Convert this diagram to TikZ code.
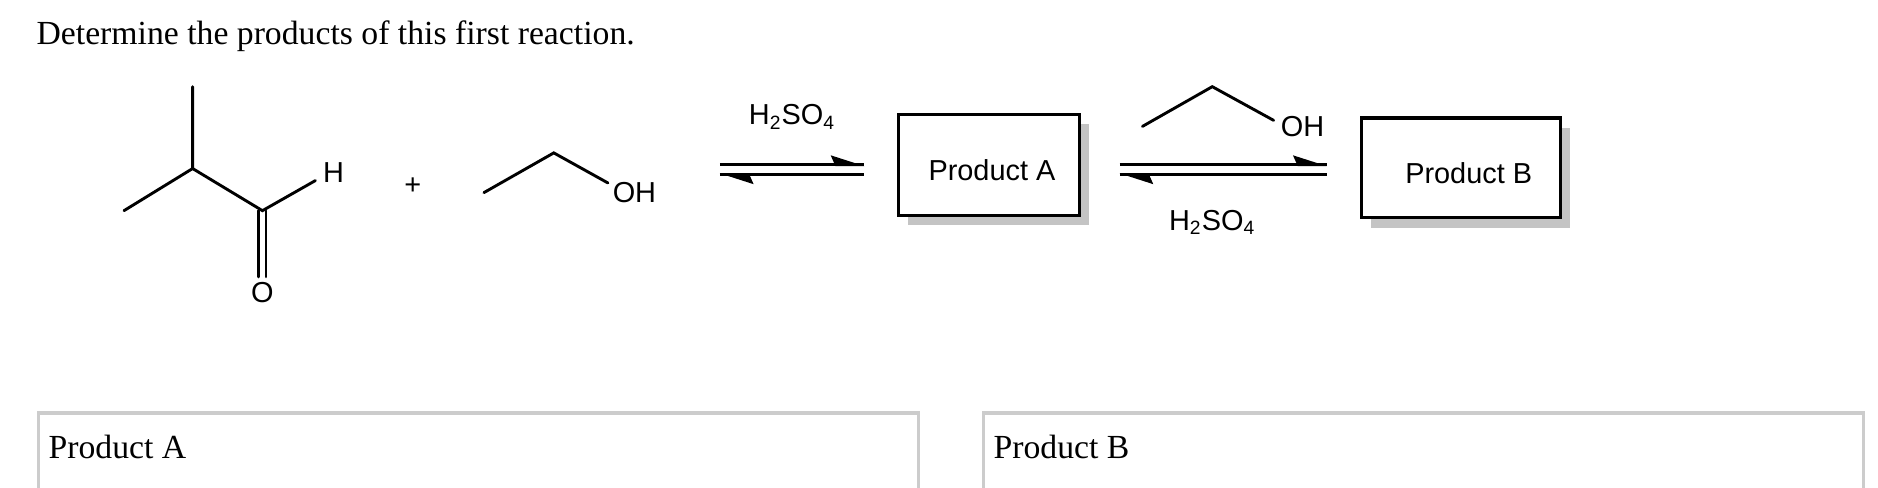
\documentclass[tikz,border=0pt]{standalone}
\usepackage{fontspec}
\setmainfont{Liberation Serif}
\newfontfamily\arial{Liberation Sans}
\usetikzlibrary{positioning}
\definecolor{ShadowGray}{RGB}{196,196,196}
\definecolor{AnswerGray}{RGB}{204,204,204}

\begin{document}
\begin{tikzpicture}[x=0.5pt, y=-0.5pt,
        bond/.style={line width=1.2pt, line cap=round},
        atom/.style={inner sep=0pt, font=\arial\fontsize{12}{13}\selectfont},
        prodbox/.style={draw=black, line width=1.3pt, fill=white},
        answer/.style={draw=AnswerGray, line width=1.5pt},
        barb/.style={fill=black}
    ]
        \useasboundingbox (0,0) rectangle (1560,405);

        % title
        \node[anchor=base west, inner sep=0pt, font=\fontsize{14}{15}\selectfont] (title) at (30,37) {Determine the products of this first reaction.};

        % isobutyraldehyde
        \draw[bond] (160,72) -- (160,140) -- (103,175);
        \draw[bond] (160,140) -- (218,175) -- (262,150);
        \draw[bond] (215,175) -- (215,230);
        \draw[bond] (221,175) -- (221,230);
        \node[atom] (h) at (277,143) {H};
        \node[atom] (o) at (218,243) {O};

        \node[atom] (plus) at (343,155) {+};

        % ethanol
        \draw[bond] (402,160) -- (460,127) -- (505,152);
        \node[atom] (oh1) at (527,160) {OH};

        % first equilibrium
        \draw[bond, line cap=butt] (598,137) -- (718,137);
        \draw[bond, line cap=butt] (598,145) -- (718,145);
        \fill[barb] (718,138) -- (690,129) -- (694,138) -- cycle;
        \fill[barb] (598,144) -- (626,153) -- (622,144) -- cycle;
        \node[atom] (acid1) at (658,97) {H\textsubscript{2}SO\textsubscript{4}};

        % product A
        \fill[ShadowGray] (754,103) rectangle (905,187);
        \draw[prodbox] (746,95) rectangle (897,179);
        \node[atom] (prodA) at (824,141) {Product A};

        % second equilibrium
        \draw[bond, line cap=butt] (930,137) -- (1102,137);
        \draw[bond, line cap=butt] (930,145) -- (1102,145);
        \fill[barb] (1102,138) -- (1074,129) -- (1078,138) -- cycle;
        \fill[barb] (930,144) -- (958,153) -- (954,144) -- cycle;
        \draw[bond] (949,105) -- (1007,72) -- (1058,100);
        \node[atom] (oh2) at (1082,105) {OH};
        \node[atom] (acid2) at (1007,185) {H\textsubscript{2}SO\textsubscript{4}};

        % product B
        \fill[ShadowGray] (1139,106) rectangle (1304,189);
        \draw[prodbox] (1131,98) rectangle (1296,181);
        \node[atom] (prodB) at (1220,144) {Product B};

        % answer boxes
        \draw[answer] (32,410) -- (32,343) -- (763,343) -- (763,410);
        \draw[answer] (817,410) -- (817,343) -- (1548,343) -- (1548,410);
        \node[anchor=base west, inner sep=0pt, font=\fontsize{14}{15}\selectfont] (ansA) at (40,381) {Product A};
        \node[anchor=base west, inner sep=0pt, font=\fontsize{14}{15}\selectfont] (ansB) at (825,381) {Product B};
    \end{tikzpicture}
\end{document}
